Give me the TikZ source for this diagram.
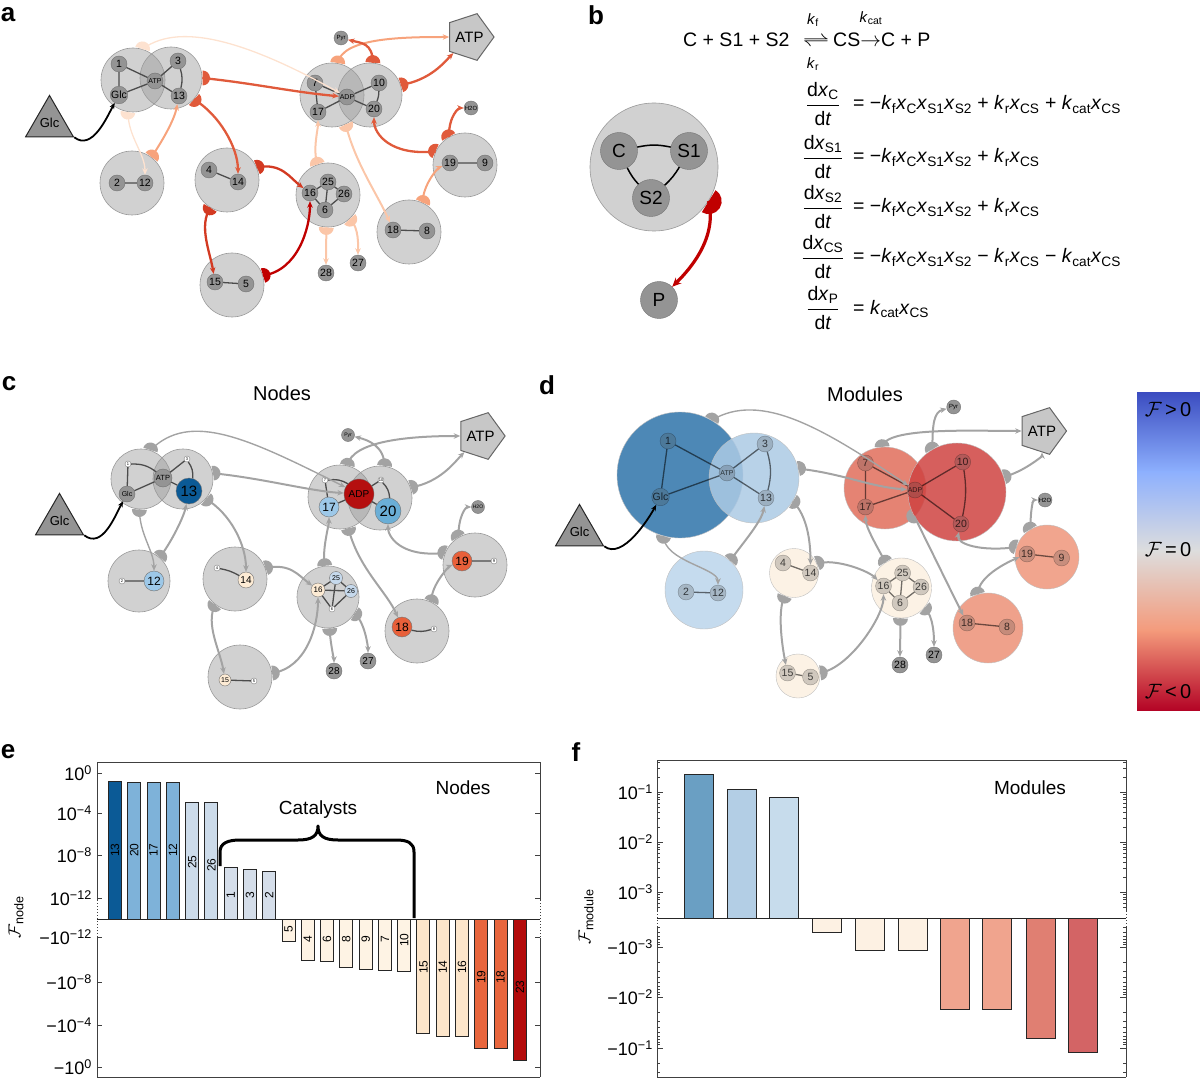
\documentclass[tikz,border=0pt]{standalone}
\usepackage{fontspec}
\setmainfont{Liberation Sans}
\usetikzlibrary{arrows.meta,shapes.geometric}

\definecolor{gLine}{HTML}{A3A3A3}
\definecolor{redD}{HTML}{C00000}
\definecolor{redM}{HTML}{D33A22}
\definecolor{redO}{HTML}{E05A3B}
\definecolor{orL}{HTML}{F7A37C}
\definecolor{orP}{HTML}{FBC6A8}
\definecolor{orV}{HTML}{FDE2D0}
\definecolor{blueD}{HTML}{0B5A96}
\definecolor{blueM}{HTML}{6AAED6}
\definecolor{blueL}{HTML}{9DC8E8}
\definecolor{blueP}{HTML}{C6D9EC}
\definecolor{peach}{HTML}{FDEBD4}
\definecolor{orR}{HTML}{E8603A}
\definecolor{redADP}{HTML}{B50F0F}
\definecolor{dmodA}{HTML}{2E73A9}
\definecolor{dmodB}{HTML}{ACCAE4}
\definecolor{dmodC}{HTML}{BBD5EB}
\definecolor{cream}{HTML}{FCF0E0}
\definecolor{dmodG}{HTML}{E06D5B}
\definecolor{dmodH}{HTML}{CF4341}
\definecolor{dmodI}{HTML}{EF957A}
\definecolor{dmodJ}{HTML}{EC9177}
\definecolor{eA}{HTML}{0B5A96}
\definecolor{eB}{HTML}{7EB2D9}
\definecolor{eC}{HTML}{CCDBEA}
\definecolor{eD}{HTML}{D5DEEA}
\definecolor{eE}{HTML}{FEF3E4}
\definecolor{eF}{HTML}{FDE6CB}
\definecolor{eG}{HTML}{E8663D}
\definecolor{eH}{HTML}{B30B0B}
\definecolor{fA}{HTML}{6A9FC3}
\definecolor{fB}{HTML}{B3CEE5}
\definecolor{fC}{HTML}{C7DCEC}
\definecolor{fD}{HTML}{FDF1E3}
\definecolor{fE}{HTML}{F0A48E}
\definecolor{fF}{HTML}{E07F72}
\definecolor{fG}{HTML}{D36465}
\definecolor{cbA}{HTML}{3B4CC0}
\definecolor{cbB}{HTML}{8DB0FE}
\definecolor{cbC}{HTML}{DDDDDD}
\definecolor{cbD}{HTML}{F49A7B}
\definecolor{cbE}{HTML}{B40426}

\newcommand{\kr}[1]{\textit{k}\textsubscript{#1}}
\newcommand{\xc}[1]{\textit{x}\textsubscript{#1}}
\newcommand{\tailmark}[3]{\node[tl, fill=#3, rotate=#2-90] (t#1#2) at (#1.#2) {};}
\newcommand{\modflow}[7][2pt]{%
  \draw[con, line width=#1, color=#7] (#2.#3) .. controls +#4 and +#5 .. (#6);
  \tailmark{#2}{#3}{#7}}

\begin{document}
\begin{tikzpicture}[x=1pt, y=-1pt,
  mod/.style={circle, draw=black!40, fill=black!40, fill opacity=0.45, inner sep=0pt, line width=0.6pt},
  sp/.style={circle, draw=black!55, fill=black!42, inner sep=0pt, minimum size=16pt, font=\fontsize{10.5}{10.5}\selectfont},
  spt/.style={circle, draw=black!50, fill=white, inner sep=0pt, minimum size=6pt, font=\fontsize{4}{4}\selectfont},
  dsp/.style={circle, draw=black, draw opacity=0.3, fill=black!70, fill opacity=0.25, text opacity=0.7, inner sep=0pt, minimum size=16pt, font=\fontsize{10.5}{10.5}\selectfont},
  inner/.style={line width=1.3pt, draw=black!70},
  dinner/.style={line width=1.3pt, draw=black, draw opacity=0.55},
  con/.style={-{Stealth[length=6.5pt,width=5.5pt]}},
  tl/.style={semicircle, inner sep=0pt, minimum width=15pt, minimum height=7.5pt, anchor=chord center},
  pent/.style={regular polygon, regular polygon sides=5, shape border rotate=-90, draw=black!60, fill=black!22, line width=1pt, inner sep=0pt, font=\fontsize{15}{15}\selectfont},
  tri/.style={regular polygon, regular polygon sides=3, draw=black!85, fill=black!42, line width=1pt, inner sep=0pt, font=\fontsize{13}{13}\selectfont},
  glcarrow/.style={line width=1.8pt, -{Stealth[length=6pt,width=5pt]}},
  lett/.style={font=\fontsize{26}{26}\selectfont\bfseries},
  ttl/.style={font=\fontsize{20}{20}\selectfont},
  eqt/.style={font=\fontsize{19.5}{22}\selectfont, inner sep=0pt},
  eqs/.style={font=\fontsize{15}{15}\selectfont, inner sep=0pt},
  bar/.style={draw=black!85, line width=1pt},
  ax/.style={draw=black!75, line width=1pt},
  ticklab/.style={font=\fontsize{18}{18}\selectfont, anchor=east, inner sep=0pt},
  barlab/.style={rotate=90, font=\fontsize{12}{12}\selectfont, inner sep=0pt}]
\useasboundingbox (0,0) rectangle (1200,1078);

% Panel a
\node[lett] (la) at (8,15) {a};
\foreach \m/\x/\y/\s in {A/133/80/64pt, B/171/78/62pt, C/132/183/64pt, D/227/180/64pt, E/232/285/64pt,
  F/328/195/64pt, G/332/95/64pt, H/370/95/64pt, I/465/165/64pt, J/409/232/64pt}
  \node[mod, minimum size=\s] (am\m) at (\x,\y) {};
\foreach \n/\x/\y in {1/119/64, 3/178/61, Glc/119/95, 13/179/96, 2/117/183, 12/145/183, 4/209/170, 14/238/182,
  15/215/282, 5/246/284, 16/310/193, 25/328/182, 26/344/194, 6/325/210, 28/326/273, 27/358/263,
  7/315/83, 17/318/112, 10/379/83, 20/374/109, 19/450/163, 9/485/163, 18/393/230, 8/427/231}
  \node[sp] (a\n) at (\x,\y) {\n};
\node[sp, font=\fontsize{7}{7}\selectfont] (aATP) at (155,81) {ATP};
\node[sp, font=\fontsize{7}{7}\selectfont] (aADP) at (347,97) {ADP};
\node[sp, minimum size=14pt, font=\fontsize{6}{6}\selectfont] (aPyr) at (341,38) {Pyr};
\node[sp, minimum size=14pt, font=\fontsize{6}{6}\selectfont] (aH2O) at (471,108) {H2O};
\node[pent, minimum size=41pt] (aATPx) at (469.5,37) {ATP};
\node[tri, minimum size=52pt] (aGlcT) at (49.5,123) {Glc};
\draw[inner] (a1) -- (aATP) (a1) -- (aGlc) (aGlc) -- (aATP) (a3) -- (aATP) (a3) to[bend left=15] (a13) (aATP) -- (a13);
\draw[inner] (a7) -- (aADP) (a7) -- (a17) (a17) -- (aADP) (a10) -- (aADP) (a10) to[bend left=10] (a20) (aADP) -- (a20);
\draw[inner] (a2) -- (a12) (a4) -- (a14) (a15) -- (a5) (a19) -- (a9) (a18) -- (a8);
\draw[inner] (a16) -- (a25) (a25) -- (a26) (a16) -- (a6) (a26) -- (a6) (a25) -- (a6);
\draw[glcarrow] (aGlcT.corner 3) .. controls +(18,14) and +(-12,22) .. (aGlc);
\modflow[1.3pt]{amA}{73}{(40,-30)}{(-90,-50)}{aADP}{orV}
\modflow[2.3pt]{amB}{0}{(50,5)}{(-55,-5)}{aADP}{redO}
\modflow[2.3pt]{amB}{-43}{(25,15)}{(0,-35)}{a14}{redO}
\modflow[2.3pt]{amD}{23}{(25,-5)}{(-20,-15)}{a16}{redM}
\modflow[2.3pt]{amD}{-121}{(-12,18)}{(-5,-30)}{a15}{redM}
\modflow[2.3pt]{amE}{17}{(35,-5)}{(0,35)}{a16}{redD}
\modflow{amC}{53}{(10,-15)}{(-5,25)}{a13}{orL}
\modflow[1.3pt]{amA}{-99}{(0,25)}{(0,-30)}{a12}{orV}
\modflow{amG}{80}{(5,-25)}{(-70,0)}{aATPx}{orL}
\modflow[2.3pt]{amH}{85}{(0,-20)}{(20,5)}{aPyr}{redO}
\modflow[2.3pt]{amH}{18}{(30,-5)}{(-25,25)}{aATPx}{redO}
\modflow[2.3pt]{amI}{155}{(-45,5)}{(0,25)}{a20}{redO}
\modflow[2.3pt]{amI}{120}{(0,-22)}{(-12,0)}{aH2O}{redO}
\modflow{amJ}{65}{(0,-18)}{(-12,5)}{a19}{orL}
\modflow{amF}{109}{(-5,-15)}{(0,18)}{a17}{orP}
\modflow{amG}{-65}{(10,40)}{(-15,-35)}{a18}{orP}
\modflow{amF}{-93}{(0,10)}{(0,-10)}{a28}{orP}
\modflow{amF}{-48}{(10,8)}{(0,-15)}{a27}{orP}

% Panel b
\node[lett] (lb) at (596,15) {b};
\node[eqt, anchor=base west] (bR1) at (683,47) {C + S1 + S2};
\node[eqt, xscale=1.3] (bEq) at (816,42) {$\rightleftharpoons$};
\node[eqs] (bKf) at (813,20) {\kr{f}};
\node[eqs] (bKr) at (813,64) {\kr{r}};
\node[eqt, anchor=base west] (bR2) at (833,47) {CS$\rightarrow$C + P};
\node[eqs] (bKc) at (871,18) {\kr{cat}};
\node[mod, minimum size=128pt] (bm) at (654,167) {};
\node[sp, minimum size=37pt, font=\fontsize{19}{19}\selectfont] (bC) at (619,151) {C};
\node[sp, minimum size=37pt, font=\fontsize{19}{19}\selectfont] (bS1) at (689,151) {S1};
\node[sp, minimum size=37pt, font=\fontsize{19}{19}\selectfont] (bS2) at (651,198) {S2};
\node[sp, minimum size=37pt, font=\fontsize{19}{19}\selectfont] (bP) at (659,300) {P};
\draw[line width=1.5pt] (bC) to[bend left=12] (bS1) (bC) to[bend right=8] (bS2) (bS1) to[bend left=8] (bS2);
\draw[line width=3.2pt, color=redD, -{Stealth[length=9pt,width=8pt]}] (bm.-32) .. controls +(10,40) and +(25,-25) .. (bP);
\node[tl, fill=redD, minimum width=26pt, minimum height=13pt, rotate=-122] (bTail) at (bm.-32) {};
\foreach \r/\y/\n/\rhs in {1/104/C/{= −\kr{f}\xc{C}\xc{S1}\xc{S2} + \kr{r}\xc{CS} + \kr{cat}\xc{CS}},
    2/157/S1/{= −\kr{f}\xc{C}\xc{S1}\xc{S2} + \kr{r}\xc{CS}},
    3/207/S2/{= −\kr{f}\xc{C}\xc{S1}\xc{S2} + \kr{r}\xc{CS}},
    4/257/CS/{= −\kr{f}\xc{C}\xc{S1}\xc{S2} − \kr{r}\xc{CS} − \kr{cat}\xc{CS}},
    5/308/P/{= \kr{cat}\xc{CS}}} {
  \node[eqt] (bf\r) at (823,\y) {$\displaystyle\frac{\mbox{d\xc{\n}}}{\mbox{d\textit{t}}}$};
  \node[eqt, anchor=base west] (br\r) at (853,\y+6) {\rhs};
}

% Panel c
\node[lett] (lc) at (9,384) {c};
\node[ttl] (tc) at (282,393) {Nodes};
\foreach \m/\x/\y/\s in {A/141/479/60pt, B/183/479/60pt, C/139/581/62pt, D/235/579/64pt, E/240/677/64pt,
  F/328/597/62pt, G/340/497/64pt, H/380/498/64pt, I/475/565/64pt, J/417/631/64pt}
  \node[mod, minimum size=\s] (cm\m) at (\x,\y) {};
\foreach \n/\x/\y in {1/128/464, 3/187/459, 2/122/581, 4/217/568, 5/254/681, 6/332/609,
  7/325/480, 10/381/480, 9/494/561, 8/434/629}
  \node[spt] (c\n) at (\x,\y) {\n};
\foreach \n/\x/\y/\s/\c/\f in {13/189/491/26pt/blueD/15, 12/154/581/20pt/blueL/12, 14/246/580/16pt/peach/10,
  15/225/680/12pt/peach/7, 16/318/590/14pt/peach/8, 25/336/578/13pt/blueP/7, 26/351/591/13pt/blueP/7,
  17/329/507/20pt/blueL/12, 20/388/511/26pt/blueM/15, 19/462/561/20pt/orR/12, 18/402/627/20pt/orR/12,
  28/334/671/16pt/black!42/10, 27/368/661/16pt/black!42/10}
  \node[sp, minimum size=\s, fill=\c, font=\fontsize{\f}{\f}\selectfont] (c\n) at (\x,\y) {\n};
\node[sp, minimum size=18pt, font=\fontsize{7.5}{7.5}\selectfont] (cATP) at (163,478) {ATP};
\node[sp, minimum size=16pt, font=\fontsize{7}{7}\selectfont] (cGlc) at (127,494) {Glc};
\node[sp, minimum size=30pt, fill=redADP, font=\fontsize{10}{10}\selectfont] (cADP) at (359,494) {ADP};
\node[sp, minimum size=13pt, font=\fontsize{5}{5}\selectfont] (cPyr) at (348,435) {Pyr};
\node[sp, minimum size=13pt, font=\fontsize{5}{5}\selectfont] (cH2O) at (478,507) {H2O};
\node[pent, minimum size=39pt] (cATPx) at (480.6,436) {ATP};
\node[tri, minimum size=52pt] (cGlcT) at (59.5,521) {Glc};
\draw[inner] (c1) to[bend left=20] (cATP) (c1) -- (cGlc) (cGlc) -- (cATP) (c3) -- (cATP) (c3) to[bend left=20] (c13) (cATP) -- (c13);
\draw[inner] (c7) to[bend left=20] (cADP) (c7) -- (c17) (c17) -- (cADP) (c10) -- (cADP) (c10) to[bend left=20] (c20) (cADP) -- (c20);
\draw[inner] (c2) -- (c12) (c4) to[bend left=10] (c14) (c15) -- (c5) (c19) -- (c9) (c18) to[bend right=15] (c8);
\draw[inner] (c16) -- (c25) (c25) -- (c26) (c16) -- (c26) (c16) -- (c6) (c26) -- (c6) (c25) -- (c6);
\draw[glcarrow] (cGlcT.corner 3) .. controls +(18,14) and +(-12,22) .. (cGlc);
\modflow[1.4pt]{cmA}{72}{(40,-40)}{(-110,-55)}{cADP}{gLine}
\modflow{cmB}{11}{(50,5)}{(-50,-3)}{cADP}{gLine}
\modflow{cmB}{-41}{(25,15)}{(0,-35)}{c14}{gLine}
\modflow{cmC}{49}{(12,-15)}{(-5,25)}{c13}{gLine}
\modflow[1.4pt]{cmA}{-93}{(0,25)}{(0,-30)}{c12}{gLine}
\modflow{cmD}{20}{(25,-5)}{(-20,-15)}{c16}{gLine}
\modflow{cmD}{-128}{(-10,20)}{(-5,-30)}{c15}{gLine}
\modflow{cmE}{7}{(35,-5)}{(0,35)}{c16}{gLine}
\modflow{cmF}{96}{(-3,-15)}{(0,18)}{c17}{gLine}
\modflow{cmF}{-87}{(0,10)}{(0,-10)}{c28}{gLine}
\modflow{cmF}{-32}{(10,8)}{(0,-15)}{c27}{gLine}
\modflow{cmG}{77}{(5,-25)}{(-70,0)}{cATPx}{gLine}
\modflow{cmH}{82}{(0,-20)}{(20,5)}{cPyr}{gLine}
\modflow{cmH}{19}{(30,-5)}{(-25,25)}{cATPx}{gLine}
\modflow{cmG}{-75}{(10,40)}{(-15,-35)}{c18}{gLine}
\modflow{cmI}{158}{(-45,5)}{(0,25)}{c20}{gLine}
\modflow{cmI}{121}{(0,-22)}{(-12,0)}{cH2O}{gLine}
\modflow{cmJ}{64}{(0,-18)}{(-12,5)}{c19}{gLine}

% Panel d
\node[lett] (ld) at (547,385) {d};
\node[ttl] (td) at (865,394) {Modules};
\foreach \m/\x/\y/\s/\c in {A/680/475/126pt/dmodA, B/754/478/90pt/dmodB, C/704/590/78pt/dmodC,
  D/794/573/49pt/cream, E/798/676/44pt/cream, F/901.5/588/60pt/cream, G/885/488/82pt/dmodG,
  H/957/492/98pt/dmodH, I/1047/557/64pt/dmodI, J/988/628/70pt/dmodJ}
  \node[circle, inner sep=0pt, minimum size=\s, fill=\c, fill opacity=0.85, draw=black!25] (dm\m) at (\x,\y) {};
\foreach \n/\x/\y in {1/668/441, 3/765/444, Glc/660.5/497, 13/766/498, 2/686/592, 12/718/593,
  4/783/563, 14/810.5/573, 15/787.5/673, 5/810.5/677, 16/883.5/586, 25/902.6/573, 26/921/587, 6/900/603,
  7/865.5/463, 17/865.5/507, 10/962.7/462, 20/961/524, 19/1027/554, 9/1061.6/558, 18/967/623, 8/1007/627}
  \node[dsp] (d\n) at (\x,\y) {\n};
\node[dsp, font=\fontsize{7}{7}\selectfont] (dATP) at (727,473) {ATP};
\node[dsp, font=\fontsize{7}{7}\selectfont] (dADP) at (915,490) {ADP};
\node[sp] (d28) at (900,665) {28};
\node[sp] (d27) at (934,655) {27};
\node[sp, minimum size=14pt, font=\fontsize{6}{6}\selectfont] (dPyr) at (953.7,407) {Pyr};
\node[sp, minimum size=14pt, font=\fontsize{6}{6}\selectfont] (dH2O) at (1045,500) {H2O};
\node[pent, minimum size=42pt] (dATPx) at (1042,431) {ATP};
\node[tri, minimum size=54pt] (dGlcT) at (579.5,532) {Glc};
\draw[dinner] (d1) -- (dATP) (d1) -- (dGlc) (dGlc) -- (dATP) (d3) -- (dATP) (d3) to[bend left=15] (d13) (dATP) -- (d13);
\draw[dinner] (d7) -- (dADP) (d7) -- (d17) (d17) -- (dADP) (d10) -- (dADP) (d10) to[bend left=10] (d20) (dADP) -- (d20);
\draw[dinner] (d2) -- (d12) (d4) -- (d14) (d15) -- (d5) (d19) -- (d9) (d18) -- (d8);
\draw[dinner] (d16) -- (d25) (d25) -- (d26) (d16) -- (d6) (d26) -- (d6) (d25) -- (d6);
\draw[glcarrow] (dGlcT.corner 3) .. controls +(18,14) and +(-12,22) .. (dGlc);
\modflow[1.4pt]{dmA}{60}{(50,-30)}{(-90,-60)}{dADP}{gLine}
\modflow{dmB}{12}{(45,5)}{(-45,-3)}{dADP}{gLine}
\modflow{dmB}{-31}{(15,15)}{(0,-30)}{d14}{gLine}
\modflow[1.4pt]{dmA}{-105}{(0,25)}{(0,-25)}{d12}{gLine}
\modflow{dmC}{48}{(10,-15)}{(-5,25)}{d13}{gLine}
\modflow{dmD}{23}{(20,-5)}{(-15,-15)}{d16}{gLine}
\modflow{dmD}{-112}{(-8,15)}{(-5,-25)}{d15}{gLine}
\modflow{dmE}{8}{(30,-5)}{(0,30)}{d16}{gLine}
\modflow{dmF}{122}{(-8,-15)}{(0,20)}{d17}{gLine}
\modflow{dmF}{-92}{(0,10)}{(0,-10)}{d28}{gLine}
\modflow{dmF}{-41}{(10,8)}{(0,-15)}{d27}{gLine}
\modflow{dmG}{94}{(3,-20)}{(-70,0)}{dATPx}{gLine}
\modflow{dmH}{120}{(0,-25)}{(-20,5)}{dPyr}{gLine}
\modflow{dmH}{18}{(20,-5)}{(0,25)}{dATPx}{gLine}
\modflow{dmH}{-151}{(15,30)}{(-15,-30)}{d18}{gLine}
\modflow{dmI}{162}{(-35,5)}{(-5,20)}{d20}{gLine}
\modflow{dmI}{121}{(0,-20)}{(-12,0)}{dH2O}{gLine}
\modflow{dmJ}{107}{(0,-20)}{(-12,5)}{d19}{gLine}

% colour bar
\shade[top color=cbA, bottom color=cbB] (1137,392) rectangle (1200,472);
\shade[top color=cbB, bottom color=cbC] (1137,471.5) rectangle (1200,551);
\shade[top color=cbC, bottom color=cbD] (1137,550.5) rectangle (1200,631);
\shade[top color=cbD, bottom color=cbE] (1137,630.5) rectangle (1200,710);
\node[ttl] (cbP) at (1168,410) {$\mathcal{F}$\,>\,0};
\node[ttl] (cbZ) at (1168,550) {$\mathcal{F}$\,=\,0};
\node[ttl] (cbN) at (1168,692) {$\mathcal{F}$\,<\,0};

% Panel e
\node[lett] (le) at (8,752) {e};
\draw[ax] (97,762) -- (540,762) (97,1077) -- (540,1077);
\draw[ax] (97,762) -- (97,900) (97,938) -- (97,1077) (540,762) -- (540,900) (540,938) -- (540,1077);
\draw[ax, dotted] (97,900) -- (97,938) (540,900) -- (540,938);
\foreach \y/\t in {773/10\textsuperscript{0}, 813/10\textsuperscript{−4}, 855/10\textsuperscript{−8}, 898/10\textsuperscript{−12},
  937/−10\textsuperscript{−12}, 982/−10\textsuperscript{−8}, 1025/−10\textsuperscript{−4}, 1067/−10\textsuperscript{0}} {
  \draw[ax] (97,\y) -- +(5,0) (540,\y) -- +(-5,0);
  \node[ticklab] (et\y) at (92,\y) {\t};
}
\foreach \i/\n/\t/\c/\ly in {0/13/781/eA/850, 1/20/782/eB/850, 2/17/782/eB/850, 3/12/782/eB/850,
  4/25/802/eC/862, 5/26/802/eC/865, 6/1/867/eD/895, 7/3/869/eD/895, 8/2/871/eD/895,
  9/5/941/eE/929, 10/4/960/eE/939, 11/6/961/eE/939, 12/8/967/eE/939, 13/9/969/eE/939, 14/7/970/eE/939,
  15/10/971/eE/940, 16/15/1033/eF/967, 17/14/1036/eF/967, 18/16/1036/eF/967, 19/19/1048/eG/977,
  20/18/1048/eG/977, 21/23/1060/eH/987} {
  \pgfmathsetmacro\bx{115+19.28*\i}
  \draw[bar, fill=\c] (\bx-6.5,919) rectangle (\bx+6.5,\t);
  \node[barlab] (eb\n) at (\bx,\ly) {\n};
}
\draw[ax, draw=black!85] (97,919) -- (540,919);
\draw[line width=3pt, line join=round] (220,866) -- (220,852) .. controls (220,843) and (228,840) .. (240,840)
  -- (298,840) .. controls (312,840) and (318,836) .. (318,826) .. controls (318,836) and (324,840) .. (338,840)
  -- (396,840) .. controls (408,840) and (414,843) .. (414,852) -- (414,918);
\node[ttl, font=\fontsize{19}{19}\selectfont] (eCat) at (318,810) {Catalysts};
\node[ttl, font=\fontsize{19}{19}\selectfont] (eNod) at (463,788) {Nodes};
\node[rotate=90, font=\fontsize{18}{18}\selectfont] (eY) at (16,917) {$\mathcal{F}$\textsubscript{node}};

% Panel f
\node[lett] (lf) at (576,752) {f};
\draw[ax] (657,760) -- (1126,760) (657,1077) -- (1126,1077);
\draw[ax] (657,760) -- (657,911) (657,926) -- (657,1077) (1126,760) -- (1126,911) (1126,926) -- (1126,1077);
\draw[ax, dotted] (657,911) -- (657,926) (1126,911) -- (1126,926);
\begin{scope}
  \clip (650,762) rectangle (1135,911);
  \foreach \b in {792,842,892,942} \foreach \k in {2,...,9}
    \draw[ax, line width=0.7pt] (657,{\b-50*log10(\k)}) -- +(3,0) (1126,{\b-50*log10(\k)}) -- +(-3,0);
\end{scope}
\begin{scope}
  \clip (650,926) rectangle (1135,1075);
  \foreach \b in {897,947,997,1048} \foreach \k in {2,...,9}
    \draw[ax, line width=0.7pt] (657,{\b+50*log10(\k)}) -- +(3,0) (1126,{\b+50*log10(\k)}) -- +(-3,0);
\end{scope}
\foreach \y/\t in {792/10\textsuperscript{−1}, 842/10\textsuperscript{−2}, 892/10\textsuperscript{−3},
  947/−10\textsuperscript{−3}, 997/−10\textsuperscript{−2}, 1048/−10\textsuperscript{−1}} {
  \draw[ax] (657,\y) -- +(6,0) (1126,\y) -- +(-6,0);
  \node[ticklab] (ft\y) at (653,\y) {\t};
}
\foreach \x/\t/\c in {699/774/fA, 741.6/789/fB, 784/797/fC, 827/932/fD, 869.7/950/fD, 912.5/950/fD,
  955/1009/fE, 997/1009/fE, 1040.5/1038/fF, 1083/1052/fG}
  \draw[bar, fill=\c] (\x-14.5,918) rectangle (\x+14.5,\t);
\draw[ax, draw=black!85] (657,918) -- (1126,918);
\node[ttl, font=\fontsize{19}{19}\selectfont] (fMod) at (1030,788) {Modules};
\node[rotate=90, font=\fontsize{18}{18}\selectfont] (fY) at (586,917) {$\mathcal{F}$\textsubscript{module}};
\end{tikzpicture}
\end{document}
